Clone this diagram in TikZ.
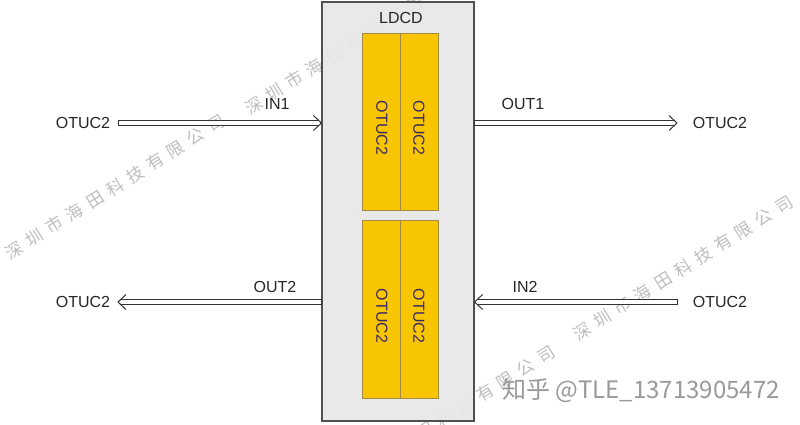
\documentclass[tikz,border=0pt]{standalone}
\usepackage{fontspec}
\setmainfont{Liberation Sans}
\newfontfamily\wmfont[LetterSpace=40]{Noto Sans CJK SC}
\newfontfamily\zhfont{Noto Sans CJK SC}
\usetikzlibrary{calc}
\definecolor{boxfill}{RGB}{232,232,232}
\definecolor{boxline}{RGB}{80,80,80}
\definecolor{colfill}{RGB}{248,198,0}
\definecolor{colline}{RGB}{165,138,70}
\definecolor{coltext}{RGB}{60,40,100}
\definecolor{wmgray}{RGB}{190,190,190}
\tikzset{
  lbl/.style={font=\fontsize{16}{18}\selectfont, text=black!85, inner sep=0pt},
  coltxt/.style={font=\fontsize{16}{18}\selectfont, text=coltext, rotate=-90, inner sep=0pt},
  colbox/.style={fill=colfill, draw=colline, line width=0.8pt},
  arrline/.style={draw=black!80, line width=1pt, line join=miter},
  wm/.style={font=\wmfont\fontsize{17}{19}\selectfont, text=wmgray, rotate=32, inner sep=0pt},
}
% #1 start coordinate, #2 tip coordinate, #3 direction (1 = to the right, -1 = to the left)
\newcommand\hollowarrow[3]{%
  \fill[white] ($(#1)+(0,-2.2)$) rectangle ($(#2)+({0-(#3)*2.3},2.2)$);
  \draw[arrline] ($(#2)+({0-(#3)*2.3},-2.2)$) -- ($(#1)+(0,-2.2)$) -- ($(#1)+(0,2.2)$) -- ($(#2)+({0-(#3)*2.3},2.2)$);
  \draw[arrline] ($(#2)+({0-(#3)*8},-7.5)$) -- (#2) -- ($(#2)+({0-(#3)*8},7.5)$);
}
\begin{document}
\begin{tikzpicture}[x=1pt,y=-1pt]
\useasboundingbox (0,0) rectangle (800,424);
\fill[white] (0,0) rectangle (800,424);
% watermarks
\node[wm] (wm1) at (115,187) {深圳市海田科技有限公司};
\node[wm] (wm2) at (355,42) {深圳市海田科技有限公司};
\node[wm] (wm3) at (683,268) {深圳市海田科技有限公司};
\node[wm] (wm4) at (445,418) {深圳市海田科技有限公司};
% main box
\node[draw=boxline, fill=boxfill, line width=1.2pt, minimum width=152pt, minimum height=419pt, inner sep=0pt, fill opacity=0.93, text opacity=1] (ldcd) at (398,211.5) {};
\node[lbl] (ldcdlbl) at (401,18) {LDCD};
% columns
\draw[colbox] (362,33) rectangle (400,210);
\draw[colbox] (400,33) rectangle (438,210);
\draw[colbox] (362,220) rectangle (400,398);
\draw[colbox] (400,220) rectangle (438,398);
\node[coltxt] (c1) at (382,128) {OTUC2};
\node[coltxt] (c2) at (419,128) {OTUC2};
\node[coltxt] (c3) at (382,316) {OTUC2};
\node[coltxt] (c4) at (419,316) {OTUC2};
% outer labels
\node[lbl] (l1) at (83,123) {OTUC2};
\node[lbl] (r1) at (720,123) {OTUC2};
\node[lbl] (l2) at (83,302) {OTUC2};
\node[lbl] (r2) at (720,302) {OTUC2};
\node[lbl] (in1) at (277,104) {IN1};
\node[lbl] (out1) at (523,104) {OUT1};
\node[lbl] (out2) at (275,287) {OUT2};
\node[lbl] (in2) at (525,287) {IN2};
% arrows
\coordinate (a1) at (118,123);
\coordinate (a2) at (677,123);
\coordinate (a3) at (118,302);
\coordinate (a4) at (677,302);
\coordinate (t1) at (a1 -| ldcd.west);
\coordinate (s2) at (a2 -| ldcd.east);
\coordinate (s3) at (a3 -| ldcd.west);
\coordinate (t4) at (a4 -| ldcd.east);
\hollowarrow{a1}{t1}{1}
\hollowarrow{s2}{a2}{1}
\hollowarrow{s3}{a3}{-1}
\hollowarrow{a4}{t4}{-1}
% zhihu watermark
\node[font=\zhfont\fontsize{24}{26}\selectfont, text=black!40, inner sep=0pt] (zh) at (641,390) {知乎 @TLE\_13713905472};
\end{tikzpicture}
\end{document}
